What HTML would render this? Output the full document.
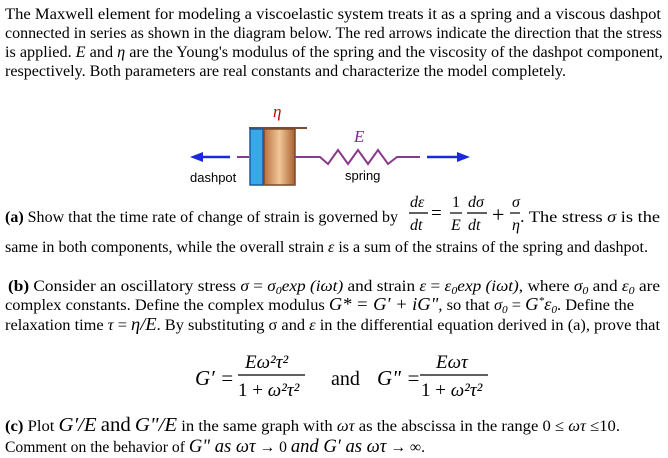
<!DOCTYPE html>
<html><head><meta charset="utf-8"><style>
html,body{margin:0;padding:0;background:#fff;}
svg{display:block;}
text{font-family:"Liberation Serif",serif;fill:#000;}
.m{font-style:italic;}
.s{font-family:"Liberation Sans",sans-serif;font-size:13px;}
</style></head><body>
<svg width="668" height="458" viewBox="0 0 668 458" font-size="16">
<text x="5" y="19" textLength="656" lengthAdjust="spacingAndGlyphs">The Maxwell element for modeling a viscoelastic system treats it as a spring and a viscous dashpot</text>
<text x="5" y="38" textLength="657" lengthAdjust="spacingAndGlyphs">connected in series as shown in the diagram below. The red arrows indicate the direction that the stress</text>
<text x="5" y="57" textLength="658" lengthAdjust="spacingAndGlyphs">is applied. <tspan class="m">E</tspan> and <tspan class="m">η</tspan> are the Young's modulus of the spring and the viscosity of the dashpot component,</text>
<text x="5" y="76" textLength="561" lengthAdjust="spacingAndGlyphs">respectively. Both parameters are real constants and characterize the model completely.</text>

<!-- diagram -->
<text x="273" y="117" class="m" font-size="17" style="fill:#c00">η</text>
<text x="354" y="142" class="m" font-size="17" style="fill:#7a2a8a">E</text>
<line x1="249" y1="128" x2="307" y2="128" stroke="#7a4a2a" stroke-width="2"/>
<rect x="250" y="129" width="13" height="56" fill="#3aa8e8" stroke="#1a5aa0" stroke-width="1.5"/>
<defs><linearGradient id="br" x1="0" x2="1"><stop offset="0" stop-color="#b87040"/><stop offset="0.5" stop-color="#f0c898"/><stop offset="1" stop-color="#a86030"/></linearGradient></defs>
<rect x="264" y="129" width="31" height="56" fill="url(#br)" stroke="#7a4a2a" stroke-width="1.5"/>
<line x1="237" y1="157" x2="249" y2="157" stroke="#8a3a8a" stroke-width="2"/>
<polyline points="295,157 320,157 328,164 338,150 348,164 358,150 368,164 378,150 388,164 397,157 420,157" fill="none" stroke="#8a3a8a" stroke-width="2"/>
<line x1="200" y1="157" x2="230" y2="157" stroke="#1a2ad8" stroke-width="2.5"/>
<polygon points="190,157 203,152 203,162" fill="#1a2ad8"/>
<line x1="427" y1="157" x2="458" y2="157" stroke="#1a2ad8" stroke-width="2.5"/>
<polygon points="470,157 457,152 457,162" fill="#1a2ad8"/>
<text x="190" y="182" class="s">dashpot</text>
<text x="345" y="180" class="s">spring</text>

<!-- (a) -->
<text x="5" y="222" textLength="393" lengthAdjust="spacingAndGlyphs"><tspan font-weight="bold">(a)</tspan> Show that the time rate of change of strain is governed by</text>
<text x="410" y="207" class="m" font-size="16">dε</text>
<line x1="409" y1="213" x2="428" y2="213" stroke="#000" stroke-width="1.2"/>
<text x="410" y="230" class="m" font-size="16">dt</text>
<text x="431" y="219" font-size="19">=</text>
<text x="452" y="207" font-size="16">1</text>
<line x1="450" y1="213" x2="462" y2="213" stroke="#000" stroke-width="1.2"/>
<text x="451" y="230" class="m" font-size="16">E</text>
<text x="468" y="207" class="m" font-size="16">dσ</text>
<line x1="467" y1="213" x2="487" y2="213" stroke="#000" stroke-width="1.2"/>
<text x="468" y="230" class="m" font-size="16">dt</text>
<text x="492" y="222" font-size="22">+</text>
<text x="512" y="207" class="m" font-size="16">σ</text>
<line x1="510" y1="213" x2="520" y2="213" stroke="#000" stroke-width="1.2"/>
<text x="512" y="230" class="m" font-size="16">η</text>
<text x="520" y="222" textLength="140" lengthAdjust="spacingAndGlyphs">. The stress <tspan class="m">σ</tspan> is the</text>
<text x="5" y="252" textLength="643" lengthAdjust="spacingAndGlyphs">same in both components, while the overall strain <tspan class="m">ε</tspan> is a sum of the strains of the spring and dashpot.</text>

<!-- (b) -->
<text x="8" y="291" textLength="652" lengthAdjust="spacingAndGlyphs"><tspan font-weight="bold">(b)</tspan> Consider an oscillatory stress <tspan class="m">σ</tspan> = <tspan class="m">σ<tspan font-size="11" dy="3">0</tspan><tspan dy="-3">exp</tspan> (iωt)</tspan> and strain <tspan class="m">ε</tspan> = <tspan class="m">ε<tspan font-size="11" dy="3">0</tspan><tspan dy="-3">exp</tspan> (iωt)</tspan>, where <tspan class="m">σ<tspan font-size="11" dy="3">0</tspan></tspan><tspan dy="-3"> and </tspan><tspan class="m">ε<tspan font-size="11" dy="3">0</tspan></tspan><tspan dy="-3"> are</tspan></text>
<text x="5" y="310" textLength="629" lengthAdjust="spacingAndGlyphs">complex constants. Define the complex modulus <tspan class="m" font-size="18">G* = G′ + iG"</tspan>, so that <tspan class="m">σ<tspan font-size="11" dy="3">0</tspan></tspan><tspan dy="-3"> = </tspan><tspan class="m" font-size="18">G<tspan font-size="11" dy="-6">*</tspan><tspan dy="6">ε</tspan><tspan font-size="11" dy="3">0</tspan></tspan><tspan dy="-3">. Define the</tspan></text>
<text x="5" y="330" textLength="655" lengthAdjust="spacingAndGlyphs">relaxation time <tspan class="m">τ</tspan> = <tspan class="m" font-size="18">η/E</tspan>. By substituting σ and <tspan class="m">ε</tspan> in the differential equation derived in (a), prove that</text>

<!-- formulas -->
<text x="195" y="385" class="m" font-size="21">G′ =</text>
<text x="245" y="368" class="m" font-size="19">Eω²τ²</text>
<line x1="238" y1="375" x2="305" y2="375" stroke="#000" stroke-width="1.3"/>
<text x="238" y="396" font-size="19">1 + <tspan class="m">ω²τ²</tspan></text>
<text x="331" y="385" font-size="20">and</text>
<text x="377" y="385" class="m" font-size="21">G" =</text>
<text x="436" y="368" class="m" font-size="19">Eωτ</text>
<line x1="420" y1="375" x2="488" y2="375" stroke="#000" stroke-width="1.3"/>
<text x="421" y="396" font-size="19">1 + <tspan class="m">ω²τ²</tspan></text>

<!-- (c) -->
<text x="5" y="431" textLength="615" lengthAdjust="spacingAndGlyphs"><tspan font-weight="bold">(c)</tspan> Plot <tspan class="m" font-size="20">G′/E</tspan> <tspan font-size="20">and</tspan> <tspan class="m" font-size="20">G"/E</tspan>  in the same graph with <tspan class="m">ωτ</tspan> as the abscissa in the range 0 ≤ <tspan class="m">ωτ</tspan> ≤10.</text>
<text x="5" y="452" textLength="420" lengthAdjust="spacingAndGlyphs">Comment on the behavior of <tspan class="m" font-size="19">G" as ωτ</tspan> → 0 <tspan class="m" font-size="19">and G′ as ωτ</tspan> → ∞.</text>
</svg>
</body></html>
